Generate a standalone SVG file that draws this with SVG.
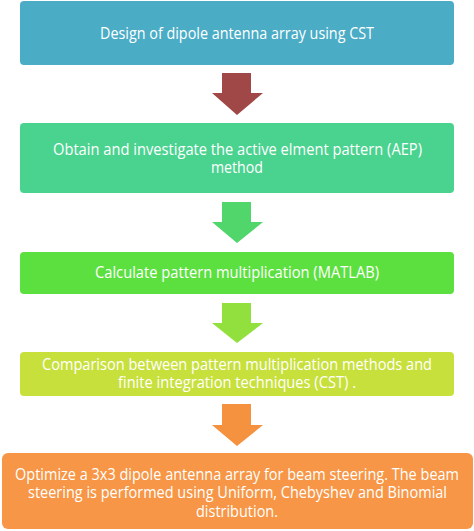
<svg xmlns="http://www.w3.org/2000/svg" width="474" height="531" viewBox="0 0 474 531">
<style>
.t{font-family:"Open Sans","Liberation Sans",sans-serif;font-size:15.5px;fill:#ffffff;text-anchor:middle}
</style>
<rect width="474" height="531" fill="#ffffff"/>
<g id="connectors">
<path d="M222,73H251V93H263L237,115L212,93H222Z" fill="#A04848"/>
<path d="M222,202H251V222H263L237,243L212,222H222Z" fill="#50D66B"/>
<path d="M222,303H251V323H263L237,343L212,323H222Z" fill="#92E03E"/>
<path d="M222,404H251V425H263L237,446L212,425H222Z" fill="#F5923F"/>
</g>
<g id="node1">
<rect x="20" y="1" width="434" height="64" rx="4" fill="#4BACC6"/>
<text class="t" x="237" y="39" textLength="274" lengthAdjust="spacingAndGlyphs">Design of dipole antenna array using CST</text>
</g>
<g id="node2">
<rect x="20" y="123" width="434" height="70" rx="4" fill="#4AD28F"/>
<text class="t" x="237.5" y="155" textLength="369" lengthAdjust="spacingAndGlyphs">Obtain and investigate the active elment pattern (AEP)</text>
<text class="t" x="237" y="173" textLength="52" lengthAdjust="spacingAndGlyphs">method</text>
</g>
<g id="node3">
<rect x="20" y="252" width="434" height="42" rx="4" fill="#5CE03F"/>
<text class="t" x="237" y="278" textLength="284" lengthAdjust="spacingAndGlyphs">Calculate pattern multiplication (MATLAB)</text>
</g>
<g id="node4">
<rect x="20" y="352" width="434" height="44" rx="4" fill="#C8E03C"/>
<text class="t" x="237" y="370" textLength="390" lengthAdjust="spacingAndGlyphs">Comparison between pattern multiplication methods and</text>
<text class="t" x="237" y="388" textLength="238" lengthAdjust="spacingAndGlyphs">finite integration techniques (CST) .</text>
</g>
<g id="node5">
<rect x="2" y="453" width="471" height="76" rx="6" fill="#F79646"/>
<text class="t" x="237" y="480" textLength="444" lengthAdjust="spacingAndGlyphs">Optimize a 3x3 dipole antenna array for beam steering. The beam</text>
<text class="t" x="237.5" y="498" textLength="419" lengthAdjust="spacingAndGlyphs">steering is performed using Uniform, Chebyshev and Binomial</text>
<text class="t" x="237" y="517" textLength="82" lengthAdjust="spacingAndGlyphs">distribution.</text>
</g>
</svg>
